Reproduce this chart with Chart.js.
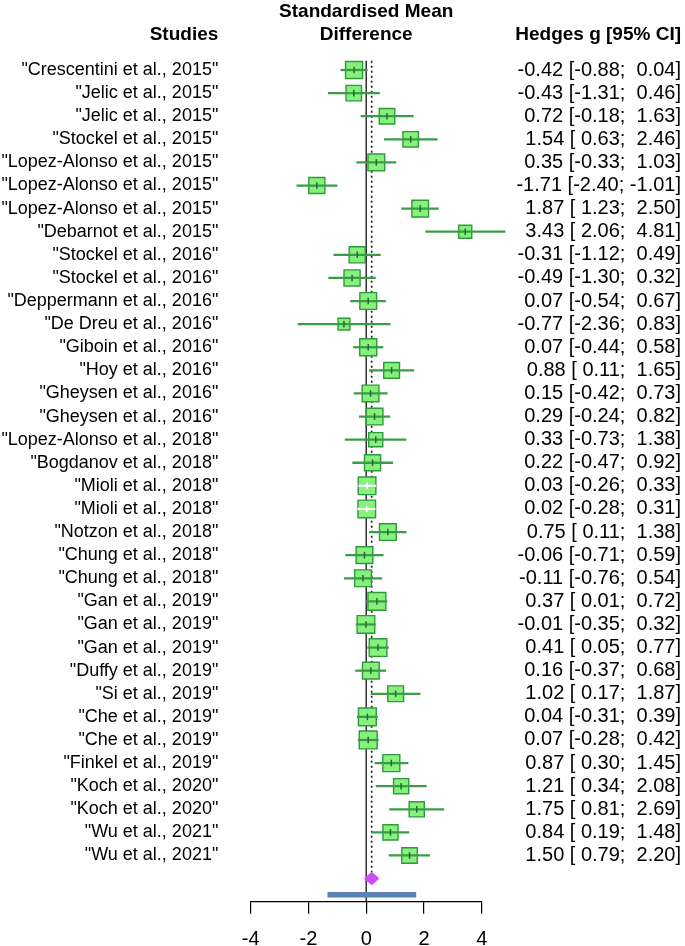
<!DOCTYPE html>
<html>
<head>
<meta charset="utf-8">
<title>Forest plot</title>
<script src="https://cdn.jsdelivr.net/npm/chart.js@4.4.1/dist/chart.umd.min.js"></script>
<style>
  html, body { margin: 0; padding: 0; background: #fff; }
  #wrap { position: relative; width: 685px; height: 946px; }
</style>
</head>
<body>
<div id="wrap"><canvas id="forest"></canvas></div>
<script>
// study rows, top to bottom
var studies = [
  '"Crescentini et al., 2015"', '"Jelic et al., 2015"', '"Jelic et al., 2015"', '"Stockel et al., 2015"',
  '"Lopez-Alonso et al., 2015"', '"Lopez-Alonso et al., 2015"', '"Lopez-Alonso et al., 2015"', '"Debarnot et al., 2015"',
  '"Stockel et al., 2016"', '"Stockel et al., 2016"', '"Deppermann et al., 2016"', '"De Dreu et al., 2016"',
  '"Giboin et al., 2016"', '"Hoy et al., 2016"', '"Gheysen et al., 2016"', '"Gheysen et al., 2016"',
  '"Lopez-Alonso et al., 2018"', '"Bogdanov et al., 2018"', '"Mioli et al., 2018"', '"Mioli et al., 2018"',
  '"Notzon et al., 2018"', '"Chung et al., 2018"', '"Chung et al., 2018"', '"Gan et al., 2019"',
  '"Gan et al., 2019"', '"Gan et al., 2019"', '"Duffy et al., 2019"', '"Si et al., 2019"',
  '"Che et al., 2019"', '"Che et al., 2019"', '"Finkel et al., 2019"', '"Koch et al., 2020"',
  '"Koch et al., 2020"', '"Wu et al., 2021"', '"Wu et al., 2021"'
];
var hedges = [-0.42, -0.43, 0.72, 1.54, 0.35, -1.71, 1.87, 3.43, -0.31, -0.49, 0.07, -0.77, 0.07, 0.88, 0.15, 0.29,
  0.33, 0.22, 0.03, 0.02, 0.75, -0.06, -0.11, 0.37, -0.01, 0.41, 0.16, 1.02, 0.04, 0.07, 0.87, 1.21, 1.75, 0.84, 1.50];
var lower = [-0.88, -1.31, -0.18, 0.63, -0.33, -2.40, 1.23, 2.06, -1.12, -1.30, -0.54, -2.36, -0.44, 0.11, -0.42, -0.24,
  -0.73, -0.47, -0.26, -0.28, 0.11, -0.71, -0.76, 0.01, -0.35, 0.05, -0.37, 0.17, -0.31, -0.28, 0.30, 0.34, 0.81, 0.19, 0.79];
var upper = [0.04, 0.46, 1.63, 2.46, 1.03, -1.01, 2.50, 4.81, 0.49, 0.32, 0.67, 0.83, 0.58, 1.65, 0.73, 0.82,
  1.38, 0.92, 0.33, 0.31, 1.38, 0.59, 0.54, 0.72, 0.32, 0.77, 0.68, 1.87, 0.39, 0.42, 1.45, 2.08, 2.69, 1.48, 2.20];
// study weights (%)
var weights = [3.1, 2.6, 2.6, 2.6, 3.0, 2.8, 3.0, 1.9, 2.8, 2.8, 3.0, 1.6, 3.1, 2.7, 3.0, 3.0,
  2.2, 2.8, 3.3, 3.3, 3.0, 3.0, 3.0, 3.4, 3.3, 3.3, 3.0, 2.7, 3.4, 3.4, 3.1, 2.5, 2.5, 2.5, 2.6];
var summary = 0.19;
var summaryCI = [-0.06, 0.44];
var predInterval = [-1.33, 1.72];
var xTicks = [-4, -2, 0, 2, 4];

var headStudies = 'Studies';
var headEffect = ['Standardised Mean', 'Difference'];
var headCI = 'Hedges g [95% CI]';

var FONT = "'Liberation Sans', Arial, Helvetica, sans-serif";
var GREEN_FILL = '#88f07c';
var GREEN_EDGE = '#2f9a3c';
var GREEN_LINE = '#3a9c46';
var GREEN_TICK = '#1f6c2a';

function fmt(v) { return v < 0 ? v.toFixed(2) : ' ' + v.toFixed(2); }
var ciLabels = hedges.map(function(g, i) {
  return g.toFixed(2) + ' [' + fmt(lower[i]) + '; ' + fmt(upper[i]) + ']';
});

// box side in px from weight (area proportional to weight)
function boxSide(w) { return 10.4 * Math.sqrt(w) - 1.3; }

// CI completely hidden by the box -> drawn in white
function insideBox(c, whiteCol, col) {
  var i = c.dataIndex;
  var xs = c.chart.scales.x;
  if (!xs || i === undefined) return col;
  var half = boxSide(weights[i]) / 2;
  var cx = xs.getPixelForValue(hedges[i]);
  if (xs.getPixelForValue(lower[i]) > cx - half && xs.getPixelForValue(upper[i]) < cx + half) return whiteCol;
  return col;
}

var rows = studies.map(function(s, i) { return i; });
var summaryRow = studies.length;

var headerPlugin = {
  id: 'headers',
  afterDraw: function(chart) {
    var ctx = chart.ctx;
    var x0 = chart.scales.x.getPixelForValue(0);
    ctx.save();
    ctx.fillStyle = '#000';
    ctx.font = 'bold 19px ' + FONT;
    ctx.textBaseline = 'alphabetic';
    ctx.textAlign = 'right';
    ctx.fillText(headStudies, chart.scales.y.right - 32.4, 40);
    ctx.fillText(headCI, chart.scales.y2.right, 40);
    ctx.textAlign = 'center';
    ctx.fillText(headEffect[0], x0, 17);
    ctx.fillText(headEffect[1], x0, 40);
    ctx.restore();
  }
};

new Chart(document.getElementById('forest'), {
  type: 'scatter',
  data: {
    datasets: [
      {
        type: 'line',
        label: 'no effect',
        data: [{x: 0, y: -0.4}, {x: 0, y: 36}],
        borderColor: '#111', borderWidth: 1.3, pointRadius: 0, fill: false,
        clip: false, order: 6
      },
      {
        type: 'line',
        label: 'summary line',
        data: [{x: summary, y: -0.4}, {x: summary, y: summaryRow - 0.27}],
        borderColor: '#222', borderWidth: 1.7, borderDash: [2, 3], pointRadius: 0, fill: false,
        clip: false, order: 6
      },
      {
        type: 'scatter',
        label: 'studies',
        data: rows.map(function(i) { return {x: hedges[i], y: i}; }),
        pointStyle: 'rect',
        pointRadius: weights.map(function(w) { return boxSide(w) / Math.SQRT2; }),
        pointHoverRadius: weights.map(function(w) { return boxSide(w) / Math.SQRT2; }),
        backgroundColor: GREEN_FILL,
        borderColor: GREEN_EDGE,
        borderWidth: 1.4,
        clip: false, order: 3
      },
      {
        type: 'bar',
        label: '95% CI',
        indexAxis: 'y',
        data: rows.map(function(i) { return {x: [lower[i], upper[i]], y: i}; }),
        grouped: false, maxBarThickness: 1.6, barPercentage: 1, categoryPercentage: 1,
        backgroundColor: function(c) { return insideBox(c, '#ffffff', GREEN_LINE); },
        borderWidth: 0, clip: false, order: 2
      },
      {
        type: 'scatter',
        label: 'estimate',
        data: rows.map(function(i) { return {x: hedges[i], y: i}; }),
        pointStyle: 'line', pointRotation: 90, pointRadius: 3.3, pointHoverRadius: 3.3,
        borderColor: function(c) { return insideBox(c, '#ffffff', GREEN_TICK); },
        borderWidth: 1.5, clip: false, order: 1
      },
      {
        type: 'line',
        label: 'random effects',
        data: [
          {x: summaryCI[0], y: summaryRow},
          {x: summary, y: summaryRow - 0.27},
          {x: summaryCI[1], y: summaryRow},
          {x: summary, y: summaryRow + 0.27},
          {x: summaryCI[0], y: summaryRow}
        ],
        borderColor: '#cc4df5', backgroundColor: '#cc4df5', borderWidth: 1,
        fill: 'shape', pointRadius: 0, tension: 0, clip: false, order: 1
      },
      {
        type: 'bar',
        label: 'prediction interval',
        indexAxis: 'y',
        data: [{x: predInterval, y: summaryRow + 0.7}],
        grouped: false, maxBarThickness: 5, barPercentage: 1, categoryPercentage: 1,
        backgroundColor: '#5b80b4', borderWidth: 0, clip: false, order: 4
      }
    ]
  },
  options: {
    responsive: true,
    maintainAspectRatio: false,
    animation: false,
    events: [],
    layout: { padding: { top: 46.9, right: 4, bottom: 0, left: 0 } },
    plugins: {
      legend: { display: false },
      tooltip: { enabled: false }
    },
    scales: {
      x: {
        type: 'linear', position: 'bottom', min: -4, max: 4, offset: false, beginAtZero: false,
        afterBuildTicks: function(s) { s.ticks = xTicks.map(function(v) { return {value: v}; }); },
        afterFit: function(s) { s.height = 44.3; },
        grid: { drawOnChartArea: false, drawTicks: true, tickLength: 12, color: '#000', lineWidth: 1.2, offset: false },
        border: { display: true, color: '#000', width: 1.2 },
        ticks: { color: '#000', font: { family: FONT, size: 20 }, padding: 13.5, maxRotation: 0, autoSkip: false }
      },
      y: {
        type: 'linear', position: 'left', reverse: true, min: -1, max: 36, offset: false,
        afterBuildTicks: function(s) { s.ticks = rows.map(function(i) { return {value: i}; }); },
        afterFit: function(s) { s.width = 250.7; },
        grid: { display: false, drawTicks: false, offset: false },
        border: { display: false },
        ticks: {
          callback: function(v) { return studies[v] !== undefined ? studies[v] : ''; },
          color: '#000', font: { family: FONT, size: 18 }, padding: 32.4, autoSkip: false
        }
      },
      y2: {
        type: 'linear', position: 'right', reverse: true, min: -1, max: 36, offset: false,
        afterBuildTicks: function(s) { s.ticks = rows.map(function(i) { return {value: i}; }); },
        afterFit: function(s) { s.width = 199.3; },
        grid: { display: false, drawTicks: false, offset: false },
        border: { display: false },
        ticks: {
          callback: function(v) { return ciLabels[v] !== undefined ? ciLabels[v] : ''; },
          crossAlign: 'far',
          color: '#000', font: { family: FONT, size: 20 }, padding: 0, autoSkip: false
        }
      }
    }
  },
  plugins: [headerPlugin]
});
</script>
</body>
</html>
